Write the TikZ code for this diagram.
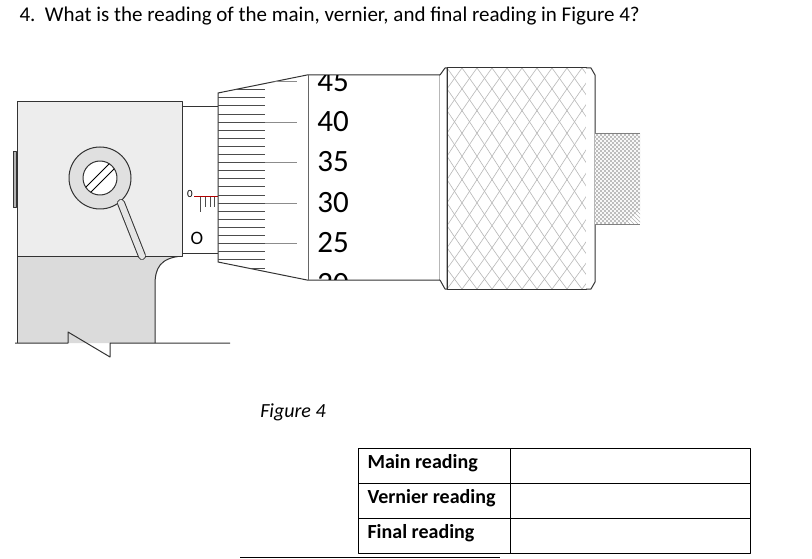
\documentclass[tikz,border=0pt]{standalone}
\usepackage{fontspec}
\setmainfont{Carlito}
\begin{document}
\begin{tikzpicture}[x=1pt,y=-1pt,line join=round,
  edge/.style={draw=black!80,line width=1pt},
  cell/.style={draw,line width=0.8pt}]
\useasboundingbox (0,0) rectangle (812,559);
\node[anchor=west,font=\fontsize{21}{23}\selectfont] (q) at (16,16) {4.\ \ What is the reading of the main, vernier, and final reading in Figure 4?};
% lower frame
\path[fill=black!14] (17,256) -- (182,256) .. controls (160,258) and (155,268) .. (155,285) -- (155,343) -- (17,343) -- cycle;
\draw[edge] (17,256) -- (17,343);
\draw[edge] (182,256) .. controls (160,258) and (155,268) .. (155,285) -- (155,343);
\draw[edge] (15,343) -- (68,343) -- (68,332) -- (110,357) -- (110,343) -- (230,343);
% upper block
\draw[edge,fill=black!7] (17,102) rectangle (182,256);
\draw[edge,fill=black!30] (13,152) rectangle (16,208);
% spindle sleeve
\draw[edge,fill=white] (182,107) rectangle (218,253);
% lock ring
\draw[edge,fill=black!12] (100,178) circle (31);
\begin{scope}
\clip (100,178) circle (17);
\fill[white] (100,178) circle (17);
\foreach \d in {-5,5} \draw[line width=1pt] (100+\d-20,178+20) -- (100+\d+20,178-20);
\end{scope}
\draw[edge] (100,178) circle (17);
\draw[line width=8pt,black!80,line cap=round] (121,203) -- (142,256);
\draw[line width=6pt,black!10,line cap=round] (121,203) -- (142,256);
% sleeve scale
\node[font=\fontsize{11}{12}\selectfont] (z0) at (190,194) {0};
\node[font=\fontsize{19}{21}\selectfont] (z1) at (197,238) {O};
\foreach \x/\l in {200/15,205/10,210/10,214/10} \draw[black!70] (\x,197) -- (\x,197+\l);
\draw[red!70!black,line width=0.8pt] (194,196) -- (265,196);
% thimble
\draw[edge,fill=white] (218,93) -- (307,75) -- (440,75) -- (440,280) -- (307,280) -- (218,262) -- cycle;
\begin{scope}
\clip (218,93) -- (307,75) -- (307,280) -- (218,262) -- cycle;
\foreach \v in {20,...,47} {
  \pgfmathsetmacro\yy{203+(30-\v)*8.1}
  \draw[black!70,line width=0.6pt] (218,\yy) -- (265,\yy);
}
\foreach \v in {20,25,...,45} {
  \pgfmathsetmacro\yy{203+(30-\v)*8.1}
  \draw[black!45,line width=0.6pt] (265,\yy) -- (297,\yy);
}
\end{scope}
\draw[black!60,line width=0.8pt] (308,75) -- (308,280);
\begin{scope}
\clip (310,76) rectangle (440,279);
\foreach \v/\yy in {45/82,40/122,35/162,30/203,25/243,20/284}
  \node[font=\fontsize{31}{33}\selectfont] (n\v) at (333,\yy) {\v};
\end{scope}
% ratchet
\draw[edge,fill=white] (440,75) -- (445,68) -- (447,68) -- (447,289) -- (445,289) -- (440,280);
\draw[edge,fill=white] (447,68) rectangle (586,289);
\begin{scope}
\clip (447,68) rectangle (586,289);
\foreach \k in {-25,...,25} {
  \draw[black!28,line width=0.6pt] (447+\k*15,68) .. controls (447+\k*15+60,150) and (447+\k*15+90,210) .. (447+\k*15+150,289);
  \draw[black!28,line width=0.6pt] (447+\k*15,68) .. controls (447+\k*15-60,150) and (447+\k*15-90,210) .. (447+\k*15-150,289);
}
\end{scope}
\draw[edge] (447,68) rectangle (586,289);
\draw[edge,fill=white] (586,68) -- (591,68) -- (595,75) -- (595,282) -- (591,289) -- (586,289);
\fill[white] (595,133) rectangle (640,224);
\begin{scope}
\clip (595,133) rectangle (640,224);
\foreach \k in {-30,...,30} {
  \draw[black!30,line width=0.4pt] (595+\k*4,133) -- (595+\k*4+91,224);
  \draw[black!30,line width=0.4pt] (595+\k*4,133) -- (595+\k*4-91,224);
}
\end{scope}
\draw[black!50] (595,133) -- (640,133) (595,224) -- (640,224);
% caption
\node[font=\fontsize{20}{22}\selectfont\itshape] (cap) at (293,412) {Figure 4};
% table
\foreach \i/\t in {0/Main reading,1/Vernier reading,2/Final reading} {
  \node[cell,minimum width=152pt,minimum height=35pt,anchor=north west] (a\i) at (358,448+\i*35) {};
  \node[cell,minimum width=240pt,minimum height=35pt,anchor=north west] (b\i) at (510,448+\i*35) {};
  \node[anchor=west,font=\fontsize{20}{22}\selectfont\bfseries] (t\i) at (364,463+\i*35) {\t};
}
\draw[line width=0.8pt] (240,557) -- (500,557);
\end{tikzpicture}
\end{document}
